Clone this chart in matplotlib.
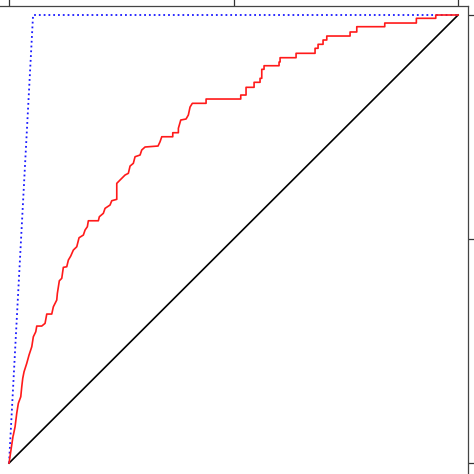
import numpy as np
import matplotlib
matplotlib.use("Agg")
import matplotlib.pyplot as plt

# ROC curve (false positive rate, true positive rate)
fpr = [0, 0.0089, 0.0096, 0.0134, 0.0171, 0.0207, 0.0261, 0.0283, 0.0305, 0.0334,
       0.0394, 0.0445, 0.0506, 0.0541, 0.0595, 0.0617, 0.0728, 0.0802, 0.0840, 0.0951,
       0.0987, 0.1062, 0.1076, 0.1120, 0.1174, 0.1209, 0.1285, 0.1321, 0.1374, 0.1432,
       0.1508, 0.1559, 0.1655, 0.1693, 0.1744, 0.1766, 0.1989, 0.2011, 0.2100, 0.2138,
       0.2249, 0.2287, 0.2399, 0.2399, 0.2472, 0.2584, 0.2657, 0.2695, 0.2768, 0.2806,
       0.2918, 0.2955, 0.3029, 0.3318, 0.3363, 0.3401, 0.3646, 0.3646, 0.3771, 0.3771,
       0.3824, 0.3942, 0.3993, 0.4031, 0.4082, 0.4388, 0.4388, 0.5160, 0.5160, 0.5278,
       0.5278, 0.5457, 0.5457, 0.5590, 0.5590, 0.5628, 0.5628, 0.5679, 0.5679, 0.6013,
       0.6013, 0.6036, 0.6036, 0.6392, 0.6392, 0.6815, 0.6815, 0.6882, 0.6882, 0.6993,
       0.6993, 0.7076, 0.7076, 0.7595, 0.7595, 0.7744, 0.7744, 0.8367, 0.8367, 0.9071,
       0.9071, 0.9503, 0.9503, 1.0]
tpr = [0, 0.0603, 0.0625, 0.0810, 0.1109, 0.1333, 0.1480, 0.1703, 0.1891, 0.2038,
       0.2225, 0.2411, 0.2596, 0.2819, 0.2931, 0.3058, 0.3058, 0.3118, 0.3326, 0.3326,
       0.3489, 0.3638, 0.3788, 0.4069, 0.4123, 0.4368, 0.4382, 0.4531, 0.4621, 0.4754,
       0.4828, 0.5029, 0.5089, 0.5201, 0.5275, 0.5408, 0.5408, 0.5498, 0.5574, 0.5685,
       0.5759, 0.5855, 0.5886, 0.6243, 0.6317, 0.6429, 0.6467, 0.6629, 0.6690, 0.6837,
       0.6875, 0.6987, 0.7054, 0.7076, 0.7172, 0.7283, 0.7283, 0.7373, 0.7373, 0.7471,
       0.7656, 0.7679, 0.7768, 0.7946, 0.8029, 0.8029, 0.8125, 0.8125, 0.8214, 0.8214,
       0.8386, 0.8386, 0.8498, 0.8498, 0.8587, 0.8587, 0.8788, 0.8788, 0.8868, 0.8868,
       0.8951, 0.8951, 0.9047, 0.9047, 0.9145, 0.9145, 0.9257, 0.9257, 0.9346, 0.9346,
       0.9442, 0.9442, 0.9531, 0.9531, 0.9621, 0.9621, 0.9739, 0.9739, 0.9821, 0.9821,
       0.9926, 0.9926, 1.0, 1.0]

# perfect classifier (dotted blue) and chance line (black)
best_fpr = [0, 0.0535, 1.0]
best_tpr = [0, 1.0, 1.0]
chance = [0, 1]

fig = plt.figure(figsize=(4.74, 4.74), dpi=100)
# the panel is cropped: left and bottom edges sit just outside the image
ax = fig.add_axes([-0.0046, -0.0025, 0.9909, 0.9907])

ax.plot(chance, chance, color='black', lw=1.2)
ax.plot(best_fpr, best_tpr, color='#1a1aff', lw=1.3, ls=':')
ax.plot(fpr, tpr, color='#ff1a1a', lw=1.2)

ax.set_xlim(-0.025, 1.021)
ax.set_ylim(-0.027, 1.021)
ax.set_xticks([0, 0.5, 1])
ax.set_yticks([0, 0.5, 1])
ax.tick_params(axis='both', direction='out', length=6, width=0.9, color='#333333',
               top=True, right=True, bottom=False, left=False,
               labeltop=False, labelright=False, labelbottom=False, labelleft=False)
for s in ax.spines.values():
    s.set_color('#444444')
    s.set_linewidth(0.9)

fig.savefig('out.png', dpi=100)
